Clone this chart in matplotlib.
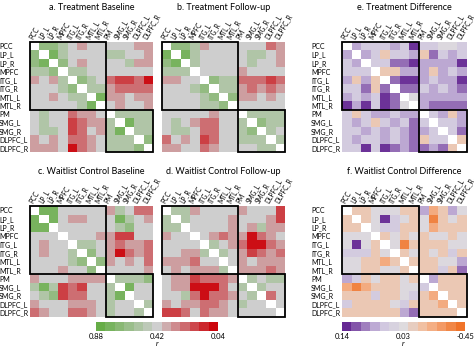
import numpy as np
import matplotlib
matplotlib.use('Agg')
import matplotlib.pyplot as plt
from matplotlib.colors import LinearSegmentedColormap, TwoSlopeNorm
from matplotlib.patches import Rectangle
from matplotlib.cm import ScalarMappable

plt.rcParams['font.family'] = ['Lato', 'DejaVu Sans']

NA = float('nan')
regions = ['PCC', 'LP_L', 'LP_R', 'MPFC', 'ITG_L', 'ITG_R', 'MTL_L', 'MTL_R',
           'PM', 'SMG_L', 'SMG_R', 'DLPFC_L', 'DLPFC_R']

treat_base = [
    [NA, .68, .68, .55, .42, .33, .42, .42, .42, .42, .42, .33, .33],
    [.68, NA, .80, .55, .42, .42, .42, .42, .55, .55, .42, .42, .33],
    [.68, .80, NA, .68, .42, .33, .42, .42, .42, .42, .55, .33, .33],
    [.55, .55, .68, NA, .55, .55, .42, .42, .42, .42, .42, .42, .42],
    [.33, .42, .33, .55, NA, .68, .55, .42, .24, .15, .15, .24, .06],
    [.42, .42, .42, .55, .68, NA, .55, .55, .33, .24, .24, .24, .24],
    [.42, .42, .33, .42, .55, .55, NA, .80, .33, .33, .42, .33, .33],
    [.42, .42, .42, .42, .42, .55, .80, NA, .42, .33, .42, .42, .33],
    [.42, .55, .42, .42, .24, .33, .33, .42, NA, .55, .55, .55, .55],
    [.42, .55, .42, .42, .15, .24, .33, .33, .55, NA, .80, .55, .55],
    [.42, .55, .55, .42, .15, .24, .42, .33, .55, .80, NA, .55, .55],
    [.33, .42, .33, .42, .24, .24, .33, .42, .55, .55, .55, NA, .68],
    [.33, .33, .33, .42, .06, .24, .33, .42, .55, .55, .55, .68, NA],
]
treat_follow = [
    [NA, .68, .68, .55, .33, .42, .42, .42, .42, .42, .42, .24, .33],
    [.80, NA, .80, .55, .42, .42, .42, .42, .42, .55, .55, .42, .33],
    [.68, .80, NA, .55, .42, .42, .42, .42, .42, .55, .42, .42, .33],
    [.55, .55, .55, NA, .42, .42, .42, .42, .33, .42, .42, .42, .42],
    [.33, .33, .42, .42, NA, .68, .55, .55, .24, .24, .24, .15, .24],
    [.42, .42, .42, .55, .68, NA, .55, .55, .33, .24, .33, .24, .33],
    [.42, .42, .42, .42, .55, .68, NA, .68, .33, .33, .42, .33, .42],
    [.42, .42, .42, .42, .55, .55, .68, NA, .42, .42, .42, .42, .42],
    [.42, .42, .42, .42, .42, .33, .42, .42, NA, .55, .55, .55, .55],
    [.42, .55, .42, .33, .24, .24, .42, .42, .55, NA, .68, .55, .55],
    [.42, .55, .55, .42, .24, .24, .42, .42, .55, .68, NA, .55, .42],
    [.24, .42, .33, .42, .15, .24, .42, .42, .55, .55, .55, NA, .55],
    [.33, .33, .42, .42, .24, .33, .42, .42, .42, .42, .55, .55, NA],
]
wait_base = [
    [NA, .80, .80, .42, .42, .42, .42, .42, .33, .55, .42, .24, .24],
    [.80, NA, .80, .42, .33, .33, .42, .42, .42, .80, .55, .42, .33],
    [.80, .80, NA, .42, .42, .42, .42, .42, .42, .55, .68, .42, .42],
    [.42, .42, .42, NA, .42, .42, .42, .33, .33, .15, .15, .42, .42],
    [.42, .33, .42, .42, NA, .55, .55, .42, .33, .24, .33, .33, .24],
    [.42, .33, .42, .42, .55, NA, .68, .42, .33, .06, .24, .33, .24],
    [.42, .42, .42, .42, .55, .68, NA, .68, .33, .42, .33, .42, .24],
    [.42, .42, .42, .33, .42, .42, .68, NA, .42, .42, .42, .42, .33],
    [.33, .42, .42, .42, .33, .33, .33, .33, NA, .55, .55, .55, .68],
    [.55, .80, .55, .15, .24, .15, .42, .42, .55, NA, .80, .42, .42],
    [.42, .55, .68, .15, .24, .24, .42, .42, .55, .80, NA, .42, .42],
    [.33, .42, .42, .42, .33, .33, .33, .42, .55, .42, .42, NA, .55],
    [.24, .33, .42, .42, .24, .24, .33, .42, .55, .42, .42, .55, NA],
]
wait_follow = [
    [NA, .55, .55, .33, .42, .42, .42, .42, .33, .42, .42, .42, .15],
    [.55, NA, .55, .42, .42, .42, .42, .33, .42, .42, .42, .33, .15],
    [.55, .55, NA, .42, .42, .42, .42, .33, .42, .33, .55, .33, .33],
    [.33, .42, .42, NA, .42, .33, .24, .33, .33, .06, .24, .33, .42],
    [.42, .42, .42, .42, NA, .55, .42, .33, .24, .06, .06, .24, .33],
    [.42, .42, .33, .33, .55, NA, .55, .42, .33, .15, .24, .33, .24],
    [.33, .33, .33, .24, .42, .42, NA, .42, .33, .42, .33, .33, .33],
    [.42, .33, .42, .33, .33, .33, .55, NA, .33, .33, .33, .24, .33],
    [.42, .33, .33, .15, .24, .24, .24, .33, NA, .55, .42, .55, .55],
    [.42, .33, .33, .06, .06, .06, .24, .42, .55, NA, .55, .42, .42],
    [.42, .42, .55, .24, .06, .24, .24, .33, .42, .55, NA, .24, .42],
    [.33, .42, .33, .33, .24, .24, .33, .42, .55, .42, .42, NA, .42],
    [.15, .15, .24, .42, .24, .33, .33, .42, .42, .42, .42, .42, NA],
]
treat_diff = [
    [NA, .085, .06, .06, .06, .085, .06, .135, .06, .06, .035, .035, .06],
    [.085, NA, .085, .06, -.08, .06, .06, .085, -.08, .11, .06, .085, .06],
    [.06, .085, NA, .06, .06, .11, .11, .135, .085, .085, .085, .085, .135],
    [.06, .06, .06, NA, -.08, -.08, .085, .085, .085, -.08, .085, .06, .085],
    [.085, -.08, .085, -.08, NA, .11, .135, .135, .085, .06, .085, .085, .135],
    [.06, .06, .11, -.08, .11, NA, .11, .11, .06, .085, .06, .085, .11],
    [.085, .06, .085, .06, .135, .11, NA, .035, .085, .085, .085, .085, .085],
    [.135, .085, .135, .06, .135, .11, .035, NA, .085, .11, .11, .11, .11],
    [.06, -.08, .06, .085, .085, .06, .085, .085, NA, .06, .085, -.08, .085],
    [.06, .085, .06, -.08, .06, .085, .06, .11, .06, NA, .06, .06, .085],
    [.06, .06, .085, .06, .085, .06, .085, .11, .085, .06, NA, .06, .11],
    [.06, .085, .06, .06, .085, .06, .085, .11, -.08, .06, .06, NA, -.08],
    [.06, .06, .135, .06, .135, .11, .085, .11, .11, .085, .11, -.08, NA],
]
wait_diff = [
    [NA, -.08, -.08, .035, .035, .035, -.08, -.08, .085, -.22, -.08, .085, .035],
    [-.08, NA, -.08, .035, .135, .06, .035, -.08, .035, -.38, -.08, .035, -.08],
    [-.08, -.08, NA, .035, .06, .06, -.08, -.08, .035, -.22, -.08, -.08, -.08],
    [.035, .035, .035, NA, -.08, .035, -.08, .035, -.08, .035, .035, -.08, .035],
    [.035, .135, .035, -.08, NA, .035, -.38, -.08, -.08, -.08, -.08, .035, .035],
    [.06, .06, .06, -.08, .035, NA, -.08, .035, -.08, .035, -.08, .06, -.08],
    [.035, .035, -.08, -.08, -.22, -.08, NA, -.08, -.08, -.08, .035, .035, .085],
    [.035, .035, -.08, -.08, .035, .035, -.08, NA, -.08, -.08, .06, -.08, .11],
    [.085, .06, -.08, .035, -.08, -.08, .035, -.08, NA, .085, -.08, -.08, -.08],
    [-.22, -.38, -.22, -.08, -.08, -.08, .035, .035, .06, NA, -.08, -.08, -.08],
    [-.08, -.08, -.08, .06, -.08, -.08, .035, .06, -.08, -.22, NA, -.08, -.08],
    [.06, -.08, -.08, -.08, -.08, .035, .06, -.08, -.08, -.08, -.22, NA, -.08],
    [-.08, -.08, -.08, -.08, -.08, -.08, .085, .11, -.08, -.08, -.08, -.08, NA],
]

r_ticks = [0.88, 0.42, 0.04]
d_ticks = [0.14, 0.03, -0.45]

W, H = 474, 348
fig = plt.figure(figsize=(W / 100, H / 100), dpi=100)

def add_ax(x0, y0, x1, y1):
    return fig.add_axes([x0 / W, 1 - y1 / H, (x1 - x0) / W, (y1 - y0) / H])

cmap_r = LinearSegmentedColormap.from_list(
    'rg', [(0.80, 0.02, 0.05), (0.81, 0.81, 0.81), (0.40, 0.68, 0.28)])
cmap_r.set_bad('white')
norm_r = TwoSlopeNorm(vmin=r_ticks[2], vcenter=r_ticks[1], vmax=r_ticks[0])

cmap_d = LinearSegmentedColormap.from_list(
    'op', [(0.0, (0.94, 0.45, 0.16)), (0.3, (0.96, 0.73, 0.59)),
           (0.5, (0.87, 0.86, 0.87)), (0.7, (0.81, 0.77, 0.88)),
           (1.0, (0.40, 0.16, 0.58))])
cmap_d.set_bad('white')
norm_d = TwoSlopeNorm(vmin=d_ticks[2], vcenter=d_ticks[1], vmax=d_ticks[0])

panels = [
    ('a. Treatment Baseline', treat_base, (30, 42, 153, 152), True, cmap_r, norm_r),
    ('b. Treatment Follow-up', treat_follow, (162, 42, 285, 152), False, cmap_r, norm_r),
    ('e. Treatment Difference', treat_diff, (342, 42, 467, 152), True, cmap_d, norm_d),
    ('c. Waitlist Control Baseline', wait_base, (30, 206, 153, 317), True, cmap_r, norm_r),
    ('d. Waitlist Control Follow-up', wait_follow, (162, 206, 285, 317), False, cmap_r, norm_r),
    ('f. Waitlist Control Difference', wait_diff, (342, 206, 467, 317), True, cmap_d, norm_d),
]

n = len(regions)
for title, mat, (x0, y0, x1, y1), rowlab, cmap, norm in panels:
    ax = add_ax(x0, y0, x1, y1)
    ax.imshow(np.array(mat, dtype=float), cmap=cmap, norm=norm, aspect='auto',
              interpolation='nearest')
    ax.set_xlim(-0.5, n - 0.5)
    ax.set_ylim(n - 0.5, -0.5)
    for s in ax.spines.values():
        s.set_visible(False)
    ax.set_xticks([])
    ax.set_yticks(range(n))
    ax.tick_params(length=0, pad=1.5)
    if rowlab:
        ax.set_yticklabels(regions, fontsize=5)
        for t in ax.get_yticklabels():
            t.set_horizontalalignment('left')
            t.set_x(-(x0 - (x0 - 29)) / (x1 - x0))
    else:
        ax.set_yticklabels([])
    for i, lab in enumerate(regions):
        ax.text(i - 0.1, -0.7, lab, rotation=60, ha='left', va='bottom',
                rotation_mode='anchor', fontsize=4.8)
    ax.add_patch(Rectangle((-0.5, -0.5), 8, 8, fill=False, ec='black', lw=1.3, clip_on=False))
    ax.add_patch(Rectangle((7.5, 7.5), 5, 5, fill=False, ec='black', lw=1.3, clip_on=False))
    fig.text(((x0 + x1) / 2) / W, 1 - (y0 - 35) / H, title, ha='center', va='center',
             fontsize=6.5)

for (x0, x1), cmap, norm, ticks in [((96, 218), cmap_r, norm_r, r_ticks),
                                    ((342, 465), cmap_d, norm_d, d_ticks)]:
    cax = add_ax(x0, 322, x1, 331)
    cb = fig.colorbar(ScalarMappable(norm=norm, cmap=cmap.resampled(13)), cax=cax,
                      orientation='horizontal')
    cb.outline.set_visible(False)
    cax.invert_xaxis()
    cb.set_ticks(ticks)
    cb.set_ticklabels([f'{t:.2f}' for t in ticks])
    cax.tick_params(length=0, labelsize=5.5, pad=1.5)
    cax.set_xlabel('r', fontsize=5.5, style='italic', labelpad=0)

fig.savefig('out.png', dpi=100)
